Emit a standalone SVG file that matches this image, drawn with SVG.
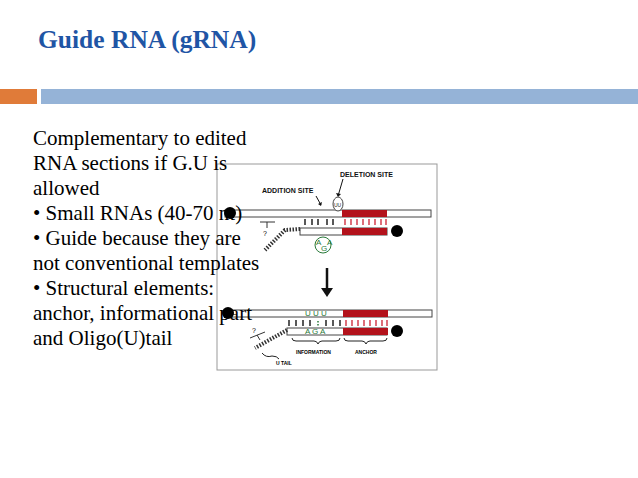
<svg xmlns="http://www.w3.org/2000/svg" width="638" height="478" viewBox="0 0 638 478">
<style>
.t{font-family:"Liberation Serif",serif;font-size:21px;fill:#000}
.l{font-family:"Liberation Sans",sans-serif;font-size:7px;font-weight:bold;fill:#111}
.s{fill:#fff;stroke:#444;stroke-width:1}
.r{fill:#b3121b}
.g{font-family:"Liberation Sans",sans-serif;font-size:8px;fill:#2a7a3a}
.k{stroke:#222;stroke-width:1.5}
.rt{stroke:#c23;stroke-width:1.3}
</style>
<rect width="638" height="478" fill="#fff"/>
<text x="38" y="48" font-family="Liberation Serif,serif" font-size="25.5" font-weight="bold" fill="#1f55a5">Guide RNA (gRNA)</text>
<rect x="0" y="89" width="37" height="15" fill="#e07b39"/>
<rect x="41" y="89" width="597" height="15" fill="#95b3d7"/>
<g id="figure">
<rect x="217" y="164" width="220" height="206" fill="#fff" stroke="#999"/>
<text class="l" x="340" y="177">DELETION SITE</text>
<text class="l" x="262" y="193">ADDITION SITE</text>
<path d="M343 179 L338 196" stroke="#111" fill="none"/><path d="M336 193 l2 4 l3 -3z" fill="#111"/>
<path d="M316 196 L321 205" stroke="#111" fill="none"/><path d="M318 204 l3 2 l1 -4z" fill="#111"/>
<rect class="s" x="225" y="210" width="206" height="7"/>
<rect class="r" x="342" y="210" width="45" height="7"/>
<ellipse cx="338" cy="204" rx="5" ry="7" fill="#fff" stroke="#444"/>
<text x="334" y="207" font-family="Liberation Sans,sans-serif" font-size="5" fill="#222">UU</text>
<circle cx="230" cy="213" r="6" fill="#000"/>
<rect class="s" x="300" y="228" width="87" height="7"/>
<rect class="r" x="342" y="228" width="45" height="7"/>
<circle cx="397" cy="231" r="6" fill="#000"/>
<circle cx="323" cy="245" r="8" fill="#fff" stroke="#2a7a3a"/>
<text class="g" x="316" y="245" font-size="5">A</text>
<text class="g" x="327" y="245" font-size="5">A</text>
<text class="g" x="321" y="251" font-size="5">G</text>
<g class="k"><path d="M305 219v6M312 219v6M318 219v6M327 219v6M333 219v6"/></g>
<g class="rt"><path d="M345 219v6M351 219v6M357 219v6M363 219v6M369 219v6M375 219v6M381 219v6M386 219v6"/></g>
<path d="M300 229 L285 230 L265 250" stroke="#333" fill="none" stroke-width="4" stroke-dasharray="1.5 1.5"/>
<path d="M260 222h15M267 222v6" stroke="#333"/>
<text x="263" y="236" font-family="Liberation Sans,sans-serif" font-size="7">?</text>
<path d="M327 268V292" stroke="#111" stroke-width="2.5"/><path d="M321 288 l6 9 l6 -9z" fill="#111"/>
<rect class="s" x="225" y="310" width="207" height="7"/>
<rect class="r" x="343" y="310" width="45" height="7"/>
<circle cx="228" cy="313" r="6" fill="#000"/>
<text class="g" x="305" y="316">U U U</text>
<g class="k"><path d="M289 320v6M296 320v6M303 320v6M310 320v6M326 320v6M333 320v6M340 320v6"/></g>
<path d="M318 321v1.5M318 324v1.5" stroke="#2a7a3a" stroke-width="1.5"/>
<g class="rt"><path d="M346 320v6M352 320v6M358 320v6M364 320v6M370 320v6M376 320v6M382 320v6M387 320v6"/></g>
<rect class="s" x="287" y="328" width="100" height="7"/>
<rect class="r" x="343" y="328" width="45" height="7"/>
<text class="g" x="305" y="334">A G A</text>
<circle cx="397" cy="331" r="6" fill="#000"/>
<path d="M287 330 L255 348" stroke="#333" fill="none" stroke-width="4" stroke-dasharray="1.5 1.5"/>
<path d="M250 338l15 -6M257 335l3 5" stroke="#333"/>
<text x="252" y="333" font-family="Liberation Sans,sans-serif" font-size="7">?</text>
<path d="M292 338q0 3 4 3h18q3 0 4 3q1 -3 4 -3h14q4 0 4 -3" stroke="#222" fill="none"/>
<path d="M344 338q0 3 4 3h14q3 0 4 3q1 -3 4 -3h13q4 0 4 -3" stroke="#222" fill="none"/>
<path d="M262 353q4 5 10 3q5 0 7 3" stroke="#222" fill="none"/>
<text x="296" y="354" font-family="Liberation Sans,sans-serif" font-size="5" font-weight="bold">INFORMATION</text>
<text x="355" y="354" font-family="Liberation Sans,sans-serif" font-size="5" font-weight="bold">ANCHOR</text>
<text x="276" y="365" font-family="Liberation Sans,sans-serif" font-size="5" font-weight="bold">U TAIL</text>
</g>
<g id="body">
<text class="t" x="33" y="145">Complementary to edited</text>
<text class="t" x="33" y="170">RNA sections if G.U is</text>
<text class="t" x="33" y="195">allowed</text>
<text class="t" x="33" y="220">• Small RNAs (40-70 nt)</text>
<text class="t" x="33" y="245">• Guide because they are</text>
<text class="t" x="33" y="270">not conventional templates</text>
<text class="t" x="33" y="295">• Structural elements:</text>
<text class="t" x="33" y="320">anchor, informational part</text>
<text class="t" x="33" y="345">and Oligo(U)tail</text>
</g>
</svg>
